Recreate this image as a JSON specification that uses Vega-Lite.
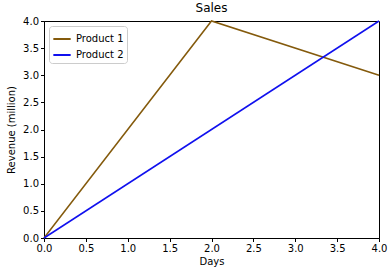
{
  "$schema": "https://vega.github.io/schema/vega-lite/v6.json",
  "width": 335,
  "height": 217,
  "autosize": {"type": "none"},
  "padding": {"left": 44, "top": 21, "right": 11, "bottom": 36},
  "background": "white",
  "config": {
    "font": "DejaVu Sans",
    "view": {"stroke": "black", "strokeWidth": 1},
    "axis": {
      "grid": false,
      "domainColor": "black",
      "tickColor": "black",
      "labelColor": "black",
      "titleColor": "black",
      "labelFont": "DejaVu Sans",
      "titleFont": "DejaVu Sans",
      "labelFontSize": 10,
      "titleFontSize": 10,
      "titleFontWeight": "normal",
      "tickSize": 3.5,
      "labelPadding": 2
    }
  },
  "title": {"text": "Sales", "fontSize": 12, "fontWeight": "normal", "font": "DejaVu Sans", "color": "black", "offset": 1},
  "data": {
    "values": [
      {"day": 0, "revenue": 0, "product": "Product 1"},
      {"day": 2, "revenue": 4, "product": "Product 1"},
      {"day": 4, "revenue": 3, "product": "Product 1"},
      {"day": 0, "revenue": 0, "product": "Product 2"},
      {"day": 4, "revenue": 4, "product": "Product 2"}
    ]
  },
  "mark": {"type": "line", "strokeWidth": 1.5, "clip": false},
  "encoding": {
    "x": {
      "field": "day", "type": "quantitative",
      "scale": {"domain": [0, 4], "nice": false},
      "axis": {"values": [0, 0.5, 1, 1.5, 2, 2.5, 3, 3.5, 4], "format": ".1f", "title": "Days", "titlePadding": 3, "labelFlush": false}
    },
    "y": {
      "field": "revenue", "type": "quantitative",
      "scale": {"domain": [0, 4], "nice": false},
      "axis": {"values": [0, 0.5, 1, 1.5, 2, 2.5, 3, 3.5, 4], "format": ".1f", "title": "Revenue (million)", "titlePadding": 6, "labelFlush": false}
    },
    "color": {
      "field": "product", "type": "nominal",
      "scale": {"domain": ["Product 1", "Product 2"], "range": ["#845a0c", "#1010ee"]},
      "legend": {
        "title": null,
        "orient": "top-left",
        "offset": 5,
        "symbolType": "stroke",
        "symbolSize": 300,
        "symbolStrokeWidth": 2,
        "labelFontSize": 10,
        "labelFont": "DejaVu Sans",
        "labelColor": "black",
        "fillColor": "white",
        "strokeColor": "#cccccc",
        "cornerRadius": 3,
        "padding": 3,
        "rowPadding": 1
      }
    }
  }
}
